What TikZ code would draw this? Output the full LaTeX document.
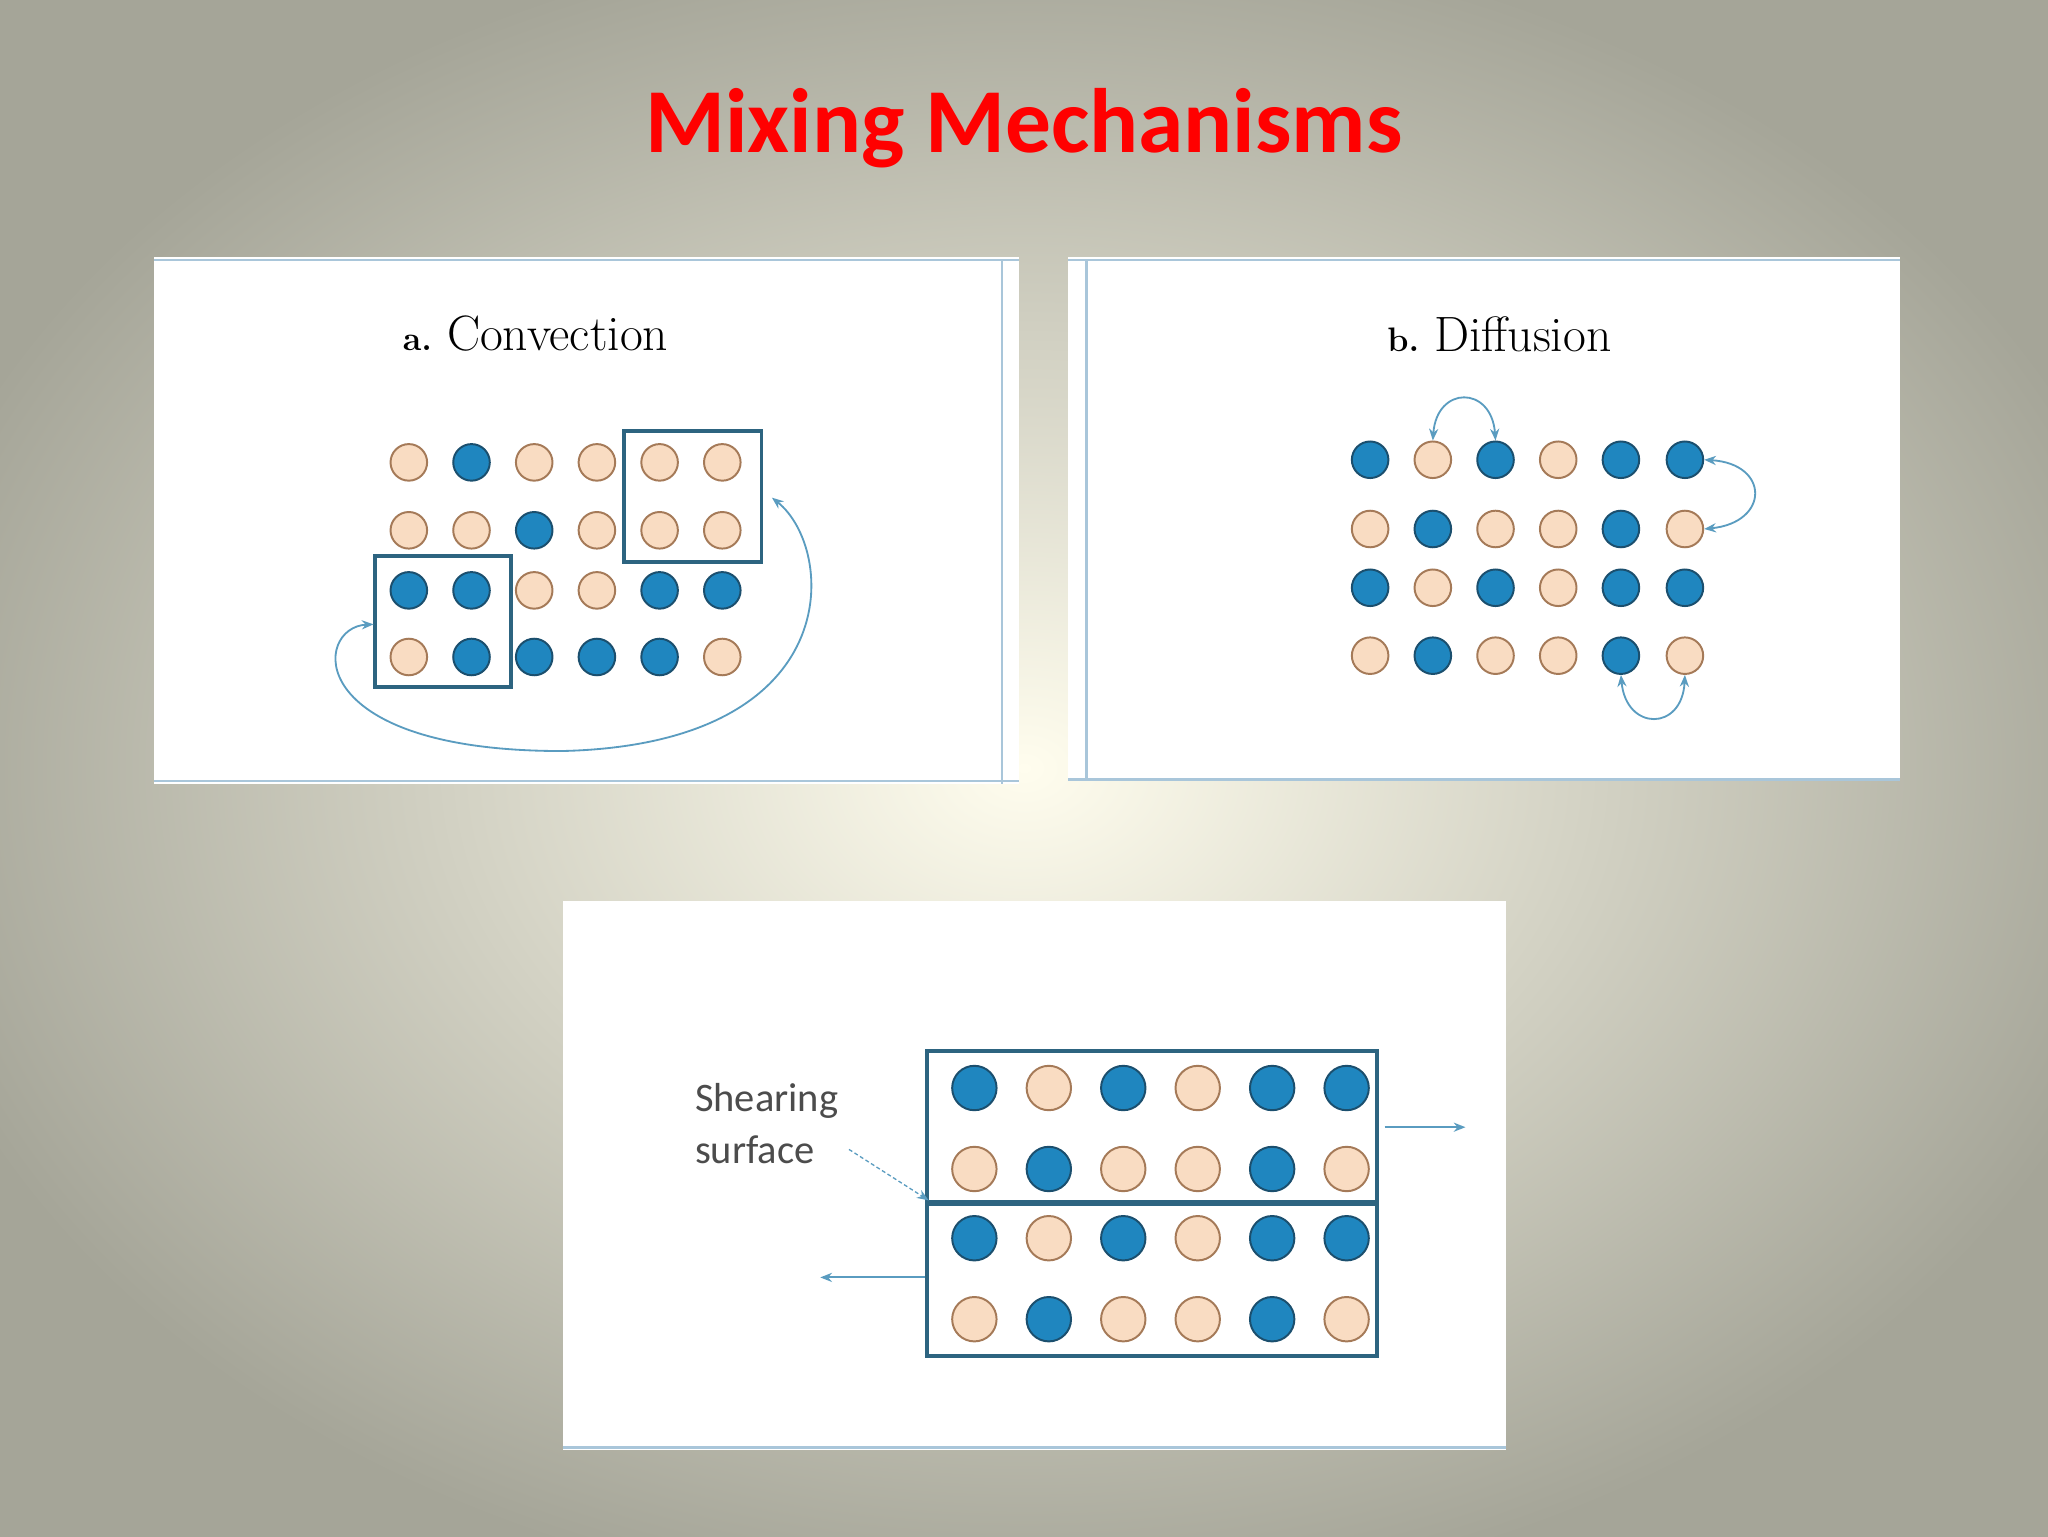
\documentclass[tikz,border=0pt]{standalone}
\usepackage{fontspec}
\newfontfamily\carl{Carlito}
\usetikzlibrary{arrows.meta}
\definecolor{pblue}{HTML}{1F86BF}
\definecolor{pbluedk}{HTML}{1B4F6E}
\definecolor{ptan}{HTML}{F9DCC2}
\definecolor{ptandk}{HTML}{A57A58}
\definecolor{boxc}{HTML}{2D6480}
\definecolor{edgel}{HTML}{A9C6DA}
\definecolor{arr}{HTML}{5A9CC0}
\tikzset{
  B/.style={circle,draw=pbluedk,fill=pblue,line width=1.5pt,inner sep=0pt,minimum size=#1},
  T/.style={circle,draw=ptandk,fill=ptan,line width=1.5pt,inner sep=0pt,minimum size=#1},
  grp/.style={draw=boxc,line width=3pt},
  carrow/.style={draw=arr,line width=1.4pt,-{Stealth[length=9pt,width=7pt]}},
  panel/.style={fill=white,draw=none},
}
\begin{document}
\begin{tikzpicture}[x=1pt,y=-1pt]
\useasboundingbox (0,0) rectangle (1568,1176);
\shade[inner color={rgb,255:red,255;green,253;blue,238}, outer color={rgb,255:red,165;green,165;blue,152}] (-100,-60) rectangle (1668,1236);
\node[text=red,font=\carl\bfseries\fontsize{70}{80}\selectfont] (title) at (784,98) {Mixing Mechanisms};
% panel a
\fill[panel] (118,197) rectangle (780,600);
\draw[edgel,line width=2pt] (118,199) -- (780,199) (767,199) -- (767,600) (118,598) -- (780,598);
\node[font=\fontsize{38}{44}\selectfont] (la) at (410,255) {{\bfseries\fontsize{26}{30}\selectfont a.}\ Convection};
\foreach \r/\y in {1/354,2/406,3/452,4/503}{
 \foreach \c/\x in {1/313,2/361,3/409,4/457,5/505,6/553}{
  \coordinate (a\r\c) at (\x,\y);}}
\foreach \k in {12,23,31,32,35,36,42,43,44,45}{\node[B=28pt] (ca\k) at (a\k) {};}
\foreach \k in {11,13,14,15,16,21,22,24,25,26,33,34,41,46}{\node[T=28pt] (ca\k) at (a\k) {};}
\draw[grp] (478,330) rectangle (583,430);
\draw[grp] (287,426) rectangle (391,526);
\coordinate (aS) at (591,381);
\coordinate (aE) at (286,478);
\draw[carrow,{Stealth[length=9pt,width=7pt]}-{Stealth[length=9pt,width=7pt]}] (aS) .. controls (640,420) and (650,570) .. (430,575) .. controls (230,575) and (240,480) .. (aE);
% panel b
\fill[panel] (818,197) rectangle (1455,598);
\draw[edgel,line width=2pt] (818,199) -- (1455,199) (832,199) -- (832,598) (818,597) -- (1455,597);
\node[font=\fontsize{38}{44}\selectfont] (lb) at (1148,256) {{\bfseries\fontsize{26}{30}\selectfont b.}\ Diffusion};
\foreach \r/\y in {1/352,2/405,3/450,4/502}{
 \foreach \c/\x in {1/1049,2/1097,3/1145,4/1193,5/1241,6/1290}{
  \coordinate (b\r\c) at (\x,\y);}}
\foreach \k in {11,13,15,16,22,25,31,33,35,36,42,45}{\node[B=28pt] (cb\k) at (b\k) {};}
\foreach \k in {12,14,21,23,24,26,32,34,41,43,44,46}{\node[T=28pt] (cb\k) at (b\k) {};}
\draw[carrow,{Stealth[length=9pt,width=7pt]}-{Stealth[length=9pt,width=7pt]}] (cb12.north) .. controls (1100,295) and (1142,295) .. (cb13.north);
\draw[carrow,{Stealth[length=9pt,width=7pt]}-{Stealth[length=9pt,width=7pt]}] (cb16.east) .. controls (1355,355) and (1355,400) .. (cb26.east);
\draw[carrow,{Stealth[length=9pt,width=7pt]}-{Stealth[length=9pt,width=7pt]}] (cb45.south) .. controls (1245,560) and (1288,560) .. (cb46.south);
% panel c
\fill[panel] (431,690) rectangle (1153,1110);
\draw[edgel,line width=2pt] (431,1108) -- (1153,1108);
\foreach \r/\y in {1/833,2/895,3/948,4/1010}{
 \foreach \c/\x in {1/746,2/803,3/860,4/917,5/974,6/1031}{
  \coordinate (s\r\c) at (\x,\y);}}
\foreach \k in {11,13,15,16,22,25,31,33,35,36,42,45}{\node[B=34pt] (cs\k) at (s\k) {};}
\foreach \k in {12,14,21,23,24,26,32,34,41,43,44,46}{\node[T=34pt] (cs\k) at (s\k) {};}
\draw[grp] (710,805) rectangle (1054,1038);
\draw[boxc,line width=5pt] (710,921) -- (1054,921);
\coordinate (rS) at (1060,863); \coordinate (rE) at (1122,863);
\coordinate (lS) at (708,978); \coordinate (lE) at (628,978);
\draw[carrow] (rS) -- (rE);
\draw[carrow] (lS) -- (lE);
\node[font=\carl\fontsize{31}{40}\selectfont,align=left,text=black!70] (shear) at (587,860) {Shearing\\surface};
\coordinate (sh) at (711,919);
\draw[carrow,line width=1pt,dash pattern=on 3pt off 2pt] (650,880) -- (sh);
\end{tikzpicture}
\end{document}
